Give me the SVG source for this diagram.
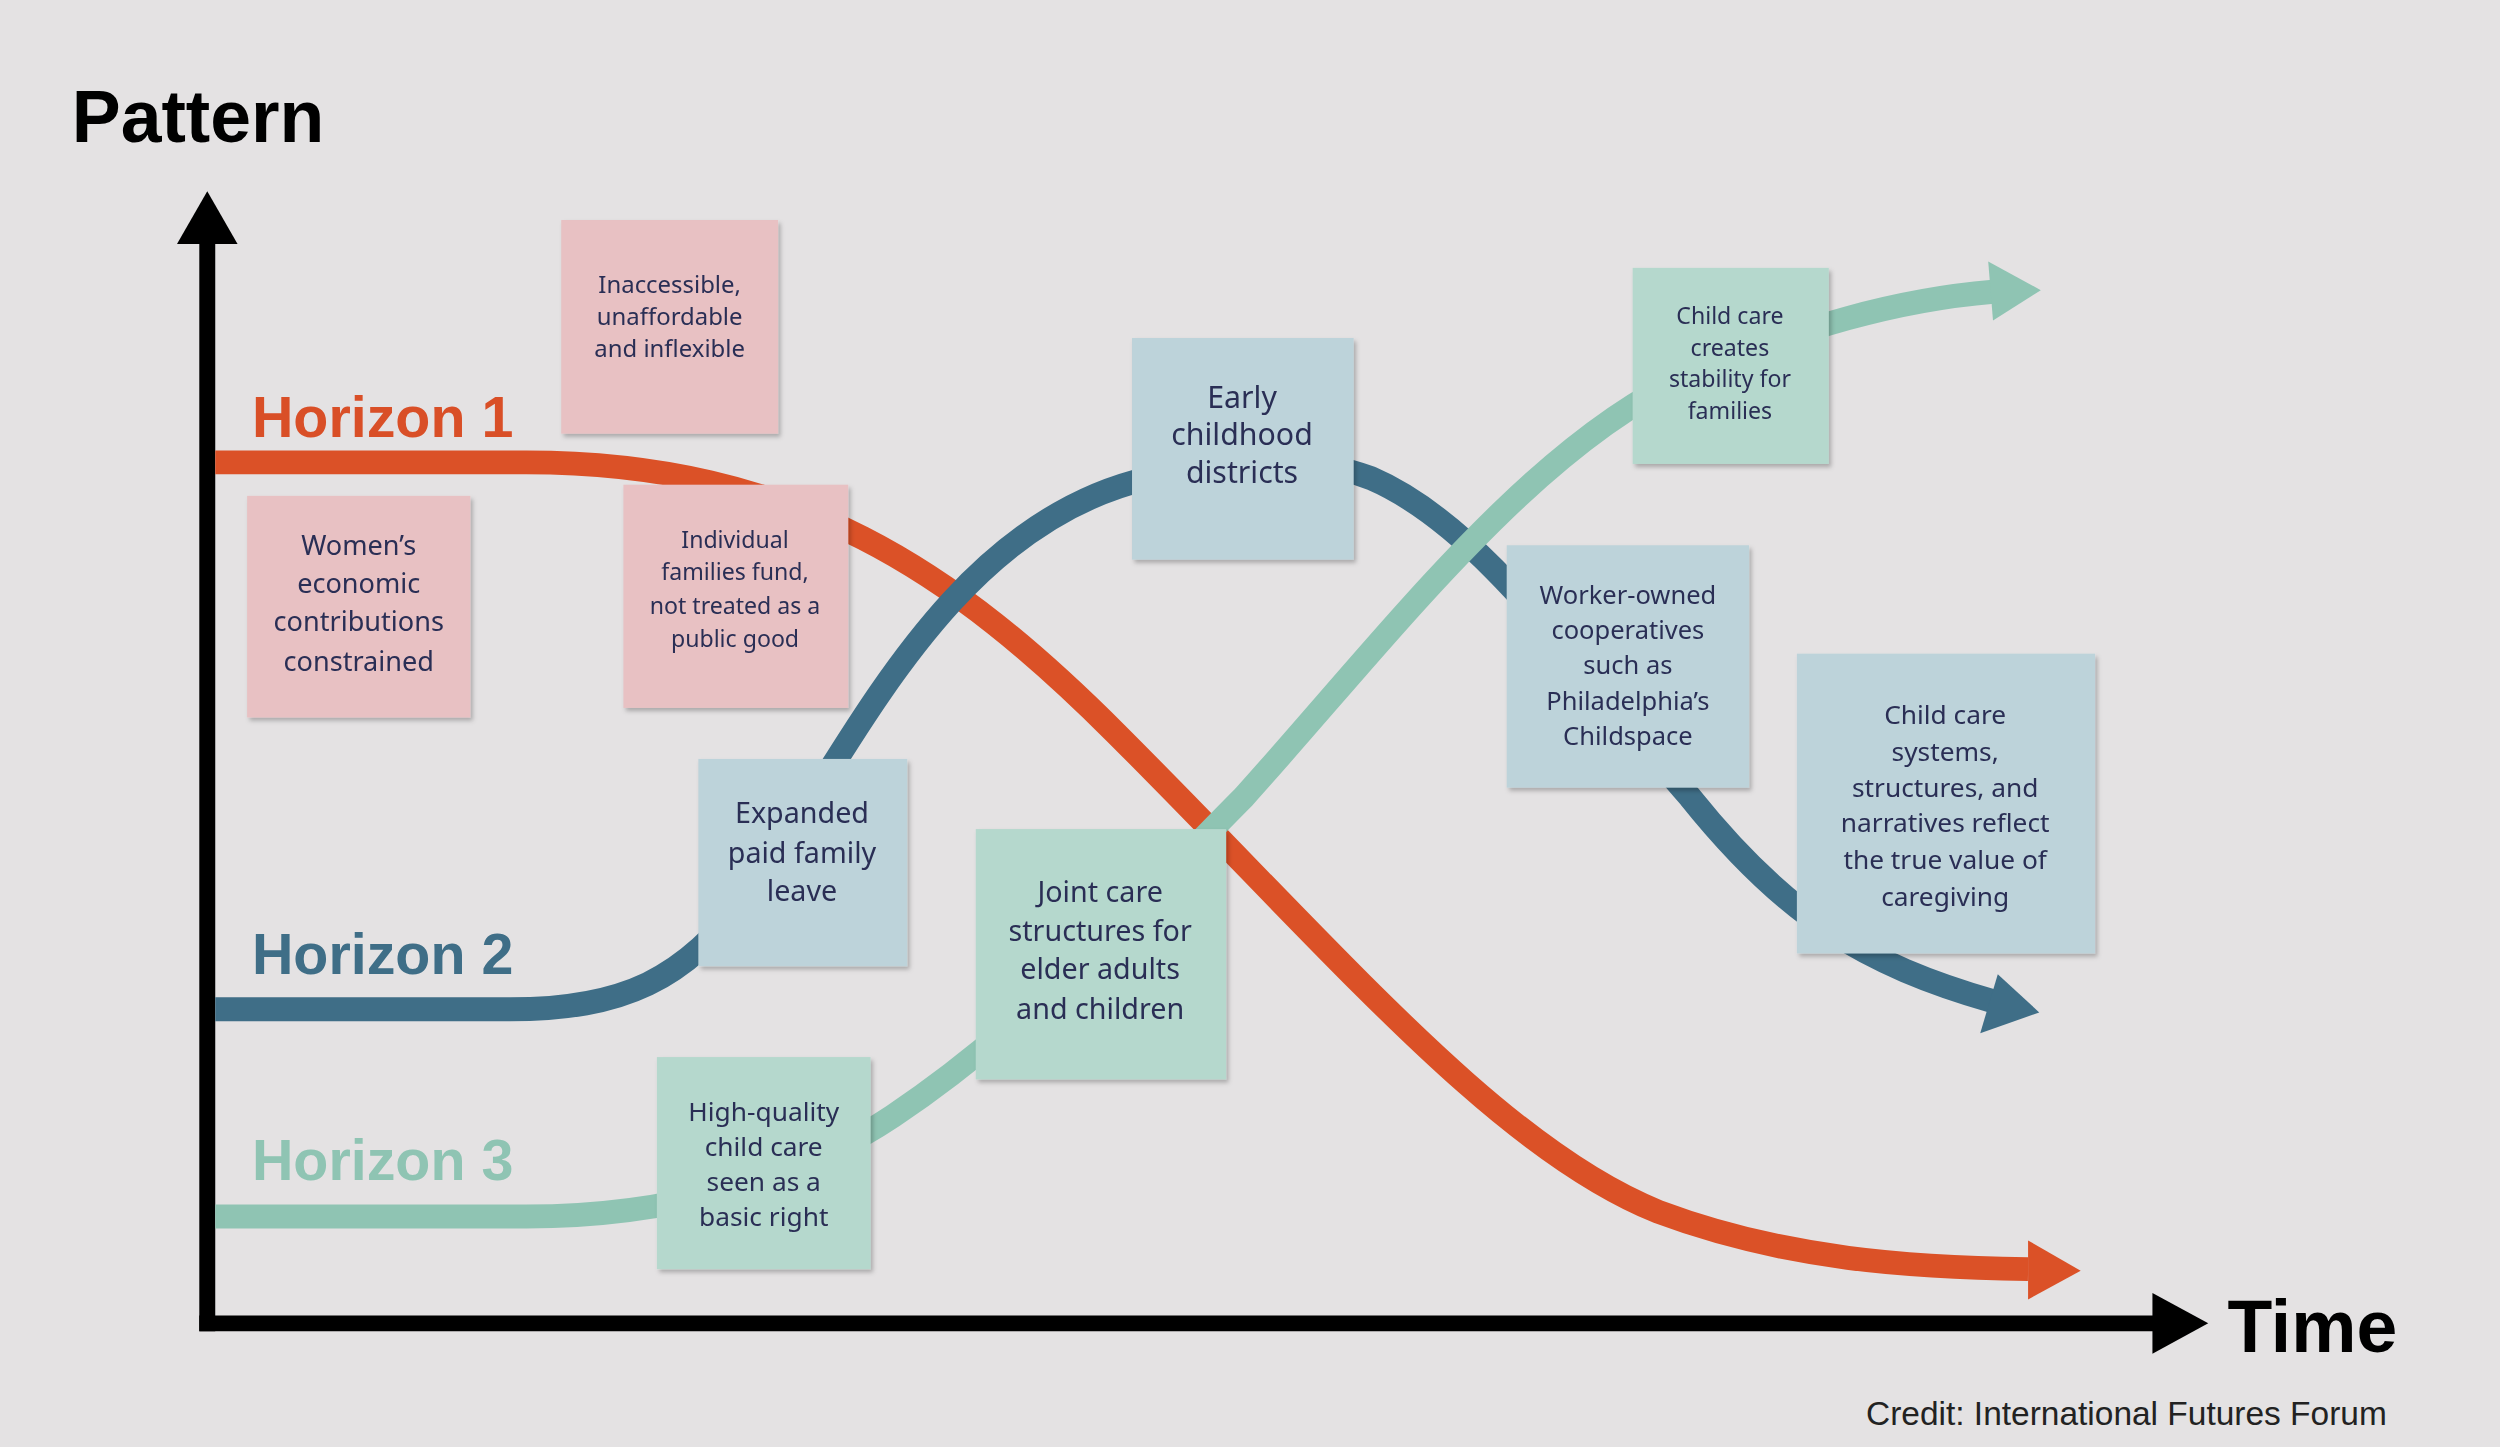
<svg xmlns="http://www.w3.org/2000/svg" width="2500" height="1447" viewBox="0 0 2500 1447">
<defs>
<style>
.t{font-family:"Noto Sans","DejaVu Sans",sans-serif;fill:#2a2f55;text-anchor:middle}
.h{font-family:"Liberation Sans",Arial,sans-serif;font-weight:bold}
.pink{fill:#e8c1c3}.blue{fill:#bdd3da}.teal{fill:#b5d8cd}
.c{fill:none;stroke-width:15}
</style>
<filter id="sh" x="-10%" y="-10%" width="130%" height="130%"><feDropShadow dx="1.5" dy="2" stdDeviation="1.5" flood-color="#000" flood-opacity="0.25"/></filter>
</defs>
<rect width="2500" height="1447" fill="#e4e2e3"/>
<g transform="scale(1.5944)">
<g id="axes">
<line x1="130" y1="148" x2="130" y2="835" stroke="#000" stroke-width="10"/>
<polygon points="130,120 149,153 111,153" fill="#000"/>
<line x1="125" y1="830" x2="1355" y2="830" stroke="#000" stroke-width="10"/>
<polygon points="1385,830 1350,811 1350,849" fill="#000"/>
</g>
<text class="h" x="45" y="89" font-size="46" fill="#000">Pattern</text>
<text class="h" x="1397" y="848" font-size="46" fill="#000">Time</text>
<text x="1497" y="894" font-size="21" text-anchor="end" font-family="Liberation Sans,Arial,sans-serif" fill="#222">Credit: International Futures Forum</text>
<text class="h" x="158" y="274" font-size="36" fill="#d94f27">Horizon 1</text>
<text class="h" x="158" y="611" font-size="36" fill="#3f6e87">Horizon 2</text>
<text class="h" x="158" y="740" font-size="36" fill="#8fc4b3">Horizon 3</text>
<g id="connectors">
<path class="c" stroke="#db5127" d="M135,290 H330 C500,290 600,360 700,460 C840,600 940,720 1040,760 C1120,790 1200,795 1272,796"/>
<polygon points="1305,797 1272,778 1272,815" fill="#db5127"/>
<path class="c" stroke="#3f6e87" d="M135,633 H320 C390,633 430,615 470,560 C530,480 590,330 720,300 C780,285 820,285 860,300 C930,330 990,420 1060,500 C1120,575 1170,605 1250,628"/>
<polygon points="1279,635 1253,611 1242,648" fill="#3f6e87"/>
<path class="c" stroke="#8fc4b3" d="M135,763 H330 C420,763 500,740 560,700 C650,640 720,560 780,500 C870,400 960,280 1060,235 C1130,205 1190,188 1250,183"/>
<polygon points="1280,182 1247,164 1250,201" fill="#8fc4b3"/>
</g>
<g id="n1" filter="url(#sh)"><rect class="pink" x="352" y="138" width="136" height="134"/>
<text class="t" font-size="15"><tspan x="420" y="184">Inaccessible,</tspan><tspan x="420" y="204">unaffordable</tspan><tspan x="420" y="224">and inflexible</tspan></text></g>
<g id="n2" filter="url(#sh)"><rect class="pink" x="155" y="311" width="140" height="139"/>
<text class="t" font-size="17"><tspan x="225" y="348">Women’s</tspan><tspan x="225" y="372">economic</tspan><tspan x="225" y="396">contributions</tspan><tspan x="225" y="421">constrained</tspan></text></g>
<g id="n3" filter="url(#sh)"><rect class="pink" x="391" y="304" width="141" height="140"/>
<text class="t" font-size="14.5"><tspan x="461" y="344">Individual</tspan><tspan x="461" y="364">families fund,</tspan><tspan x="461" y="385">not treated as a</tspan><tspan x="461" y="406">public good</tspan></text></g>
<g id="n4" filter="url(#sh)"><rect class="blue" x="438" y="476" width="131" height="130"/>
<text class="t" font-size="18"><tspan x="503" y="516">Expanded</tspan><tspan x="503" y="541">paid family</tspan><tspan x="503" y="565">leave</tspan></text></g>
<g id="n5" filter="url(#sh)"><rect class="teal" x="412" y="663" width="134" height="133"/>
<text class="t" font-size="16.5"><tspan x="479" y="703">High-quality</tspan><tspan x="479" y="725">child care</tspan><tspan x="479" y="747">seen as a</tspan><tspan x="479" y="769">basic right</tspan></text></g>
<g id="n6" filter="url(#sh)"><rect class="teal" x="612" y="520" width="157" height="157"/>
<text class="t" font-size="18"><tspan x="690" y="566">Joint care</tspan><tspan x="690" y="590">structures for</tspan><tspan x="690" y="614">elder adults</tspan><tspan x="690" y="639">and children</tspan></text></g>
<g id="n7" filter="url(#sh)"><rect class="blue" x="710" y="212" width="139" height="139"/>
<text class="t" font-size="19"><tspan x="779" y="256">Early</tspan><tspan x="779" y="279">childhood</tspan><tspan x="779" y="303">districts</tspan></text></g>
<g id="n8" filter="url(#sh)"><rect class="teal" x="1024" y="168" width="123" height="123"/>
<text class="t" font-size="14.5"><tspan x="1085" y="203">Child care</tspan><tspan x="1085" y="223">creates</tspan><tspan x="1085" y="243">stability for</tspan><tspan x="1085" y="263">families</tspan></text></g>
<g id="n9" filter="url(#sh)"><rect class="blue" x="945" y="342" width="152" height="152"/>
<text class="t" font-size="16"><tspan x="1021" y="379">Worker-owned</tspan><tspan x="1021" y="401">cooperatives</tspan><tspan x="1021" y="423">such as</tspan><tspan x="1021" y="445">Philadelphia’s</tspan><tspan x="1021" y="467">Childspace</tspan></text></g>
<g id="n10" filter="url(#sh)"><rect class="blue" x="1127" y="410" width="187" height="188"/>
<text class="t" font-size="16.5"><tspan x="1220" y="454">Child care</tspan><tspan x="1220" y="477">systems,</tspan><tspan x="1220" y="500">structures, and</tspan><tspan x="1220" y="522">narratives reflect</tspan><tspan x="1220" y="545">the true value of</tspan><tspan x="1220" y="568">caregiving</tspan></text></g>
</g>
</svg>
